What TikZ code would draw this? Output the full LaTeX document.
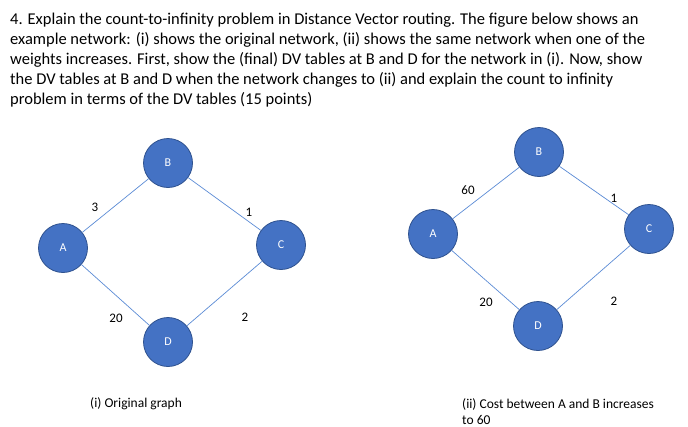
\documentclass[tikz,border=0pt]{standalone}
\usepackage{fontspec}
\setmainfont{Carlito}
\begin{document}
\begin{tikzpicture}[x=1pt,y=-1pt,
  vtx/.style={circle,fill={rgb,255:red,68;green,114;blue,196},draw={rgb,255:red,47;green,82;blue,143},line width=0.8pt,minimum size=49pt,inner sep=0pt,text=white,font=\fontsize{12}{14}\selectfont},
  edge/.style={draw={rgb,255:red,91;green,139;blue,213},line width=0.7pt},
  lbl/.style={font=\fontsize{13}{15}\selectfont,inner sep=0pt},
  captxt/.style={anchor=west,inner sep=0pt,font=\fontsize{13.5}{16}\selectfont},
  txt/.style={anchor=west,inner sep=0pt,font=\fontsize{16.5}{20}\selectfont}]
\useasboundingbox (0,0) rectangle (688,426);
\node[txt] (l1) at (10,20) {4. Explain the count-to-infinity problem in Distance Vector routing. The figure below shows an};
\node[txt] (l2) at (10,40) {example network: (i) shows the original network, (ii) shows the same network when one of the};
\node[txt] (l3) at (10,60) {weights increases. First, show the (final) DV tables at B and D for the network in (i). Now, show};
\node[txt] (l4) at (10,80) {the DV tables at B and D when the network changes to (ii) and explain the count to infinity};
\node[txt] (l5) at (10,100) {problem in terms of the DV tables (15 points)};
% graph i
\node[vtx] (A) at (63,248) {A};
\node[vtx] (B) at (168,163) {B};
\node[vtx] (C) at (281,245) {C};
\node[vtx] (D) at (168,342) {D};
\draw[edge] (A)--(B); \draw[edge] (B)--(C); \draw[edge] (A)--(D); \draw[edge] (D)--(C);
\node[lbl] (w1) at (95,207) {3};
\node[lbl] (w2) at (249,212) {1};
\node[lbl] (w3) at (116,318) {20};
\node[lbl] (w4) at (245,317) {2};
\node[captxt] (cap1) at (90,404) {(i) Original graph};
% graph ii
\node[vtx] (A2) at (433,234) {A};
\node[vtx] (B2) at (539,152) {B};
\node[vtx] (C2) at (649,229) {C};
\node[vtx] (D2) at (538,326) {D};
\draw[edge] (A2)--(B2); \draw[edge] (B2)--(C2); \draw[edge] (A2)--(D2); \draw[edge] (D2)--(C2);
\node[lbl] (v1) at (468,190) {60};
\node[lbl] (v2) at (614,198) {1};
\node[lbl] (v3) at (486,302) {20};
\node[lbl] (v4) at (614,301) {2};
\node[captxt] (cap2) at (462,404) {(ii) Cost between A and B increases};
\node[captxt] (cap3) at (462,420) {to 60};
\end{tikzpicture}
\end{document}
